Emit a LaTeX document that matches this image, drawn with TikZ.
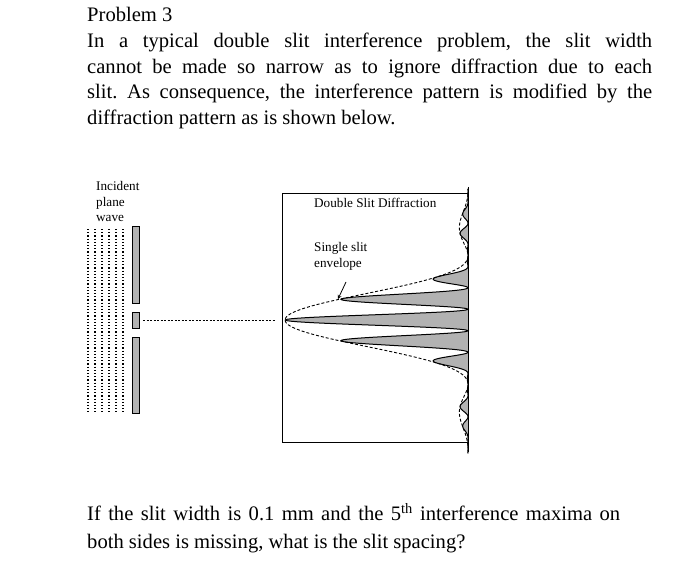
\documentclass[tikz,border=0pt]{standalone}
\usepackage{fontspec}
\setmainfont{Liberation Serif}
\frenchspacing
\newcommand{\jline}[1]{\hbox to 565pt{#1}}
\begin{document}
\begin{tikzpicture}[x=1pt,y=-1pt,
  plate/.style={draw,fill=gray!60,line width=0.8pt},
  dotline/.style={dotted,line width=1.2pt},
  lbl/.style={font=\fontsize{13.2}{15.7}\selectfont,align=left,inner sep=0pt,anchor=north west},
  declare function={snc(\u)=sin(2.7907*\u)/(0.048707*\u); itf(\u)=(cos(8.3721*\u))^2*snc(\u)^2;}]
\useasboundingbox (0,0) rectangle (700,577);
\node[anchor=north west,inner sep=0pt,align=left,font=\fontsize{20.6}{25.8}\selectfont] (txt) at (87,7)
 {Problem 3\\\jline{In a typical double slit interference problem, the slit width}\\\jline{cannot be made so narrow as to ignore diffraction due to each}\\\jline{slit. As consequence, the interference pattern is modified by the}\\diffraction pattern as is shown below.};
\node[anchor=north west,inner sep=0pt,align=left,font=\fontsize{20.6}{28}\selectfont] (q) at (87,503)
 {\hbox to 533pt{If the slit width is 0.1 mm and the 5\textsuperscript{th} interference maxima on}\\both sides is missing, what is the slit spacing?};
% incident wave
\foreach \x in {88,95,102,109,116,123}
  \draw[dotline] (\x,229) -- (\x,412);
\node[lbl] (inc) at (96,181) {Incident\\plane\\wave};
% slits
\draw[plate] (132,226) rectangle (139,303);
\draw[plate] (132,312) rectangle (139,328);
\draw[plate] (132,337) rectangle (139,413);
\coordinate (s) at (143,320);
\coordinate (e) at (276,320);
\draw[dashed,dash pattern=on 2pt off 1.5pt,line width=1pt] (s) -- (e);
% box
\draw[line width=0.8pt] (282,193) rectangle (468,442);
\node[lbl] (dsd) at (314,198) {Double Slit Diffraction};
\node[lbl] (sse) at (314,242) {Single slit\\envelope};
\coordinate (ar1) at (346,282);
\coordinate (ar2) at (338,299);
\draw[->,>=stealth,line width=0.8pt] (ar1) -- (ar2);
% pattern
\fill[gray!60] plot[domain=-131.25:133.25,samples=530,variable=\t]
  ({468-183*itf(\t)},{320+\t}) -- (468,453) -- (468,189) -- cycle;
\draw[line width=1pt] plot[domain=-131.25:133.25,samples=530,variable=\t]
  ({468-183*itf(\t)},{320+\t});
\draw[densely dashed,line width=0.9pt] plot[domain=-131.25:133.25,samples=530,variable=\t]
  ({468-183*snc(\t)^2},{320+\t});
\draw[line width=1pt] (468,187) -- (468,452);
\end{tikzpicture}
\end{document}
